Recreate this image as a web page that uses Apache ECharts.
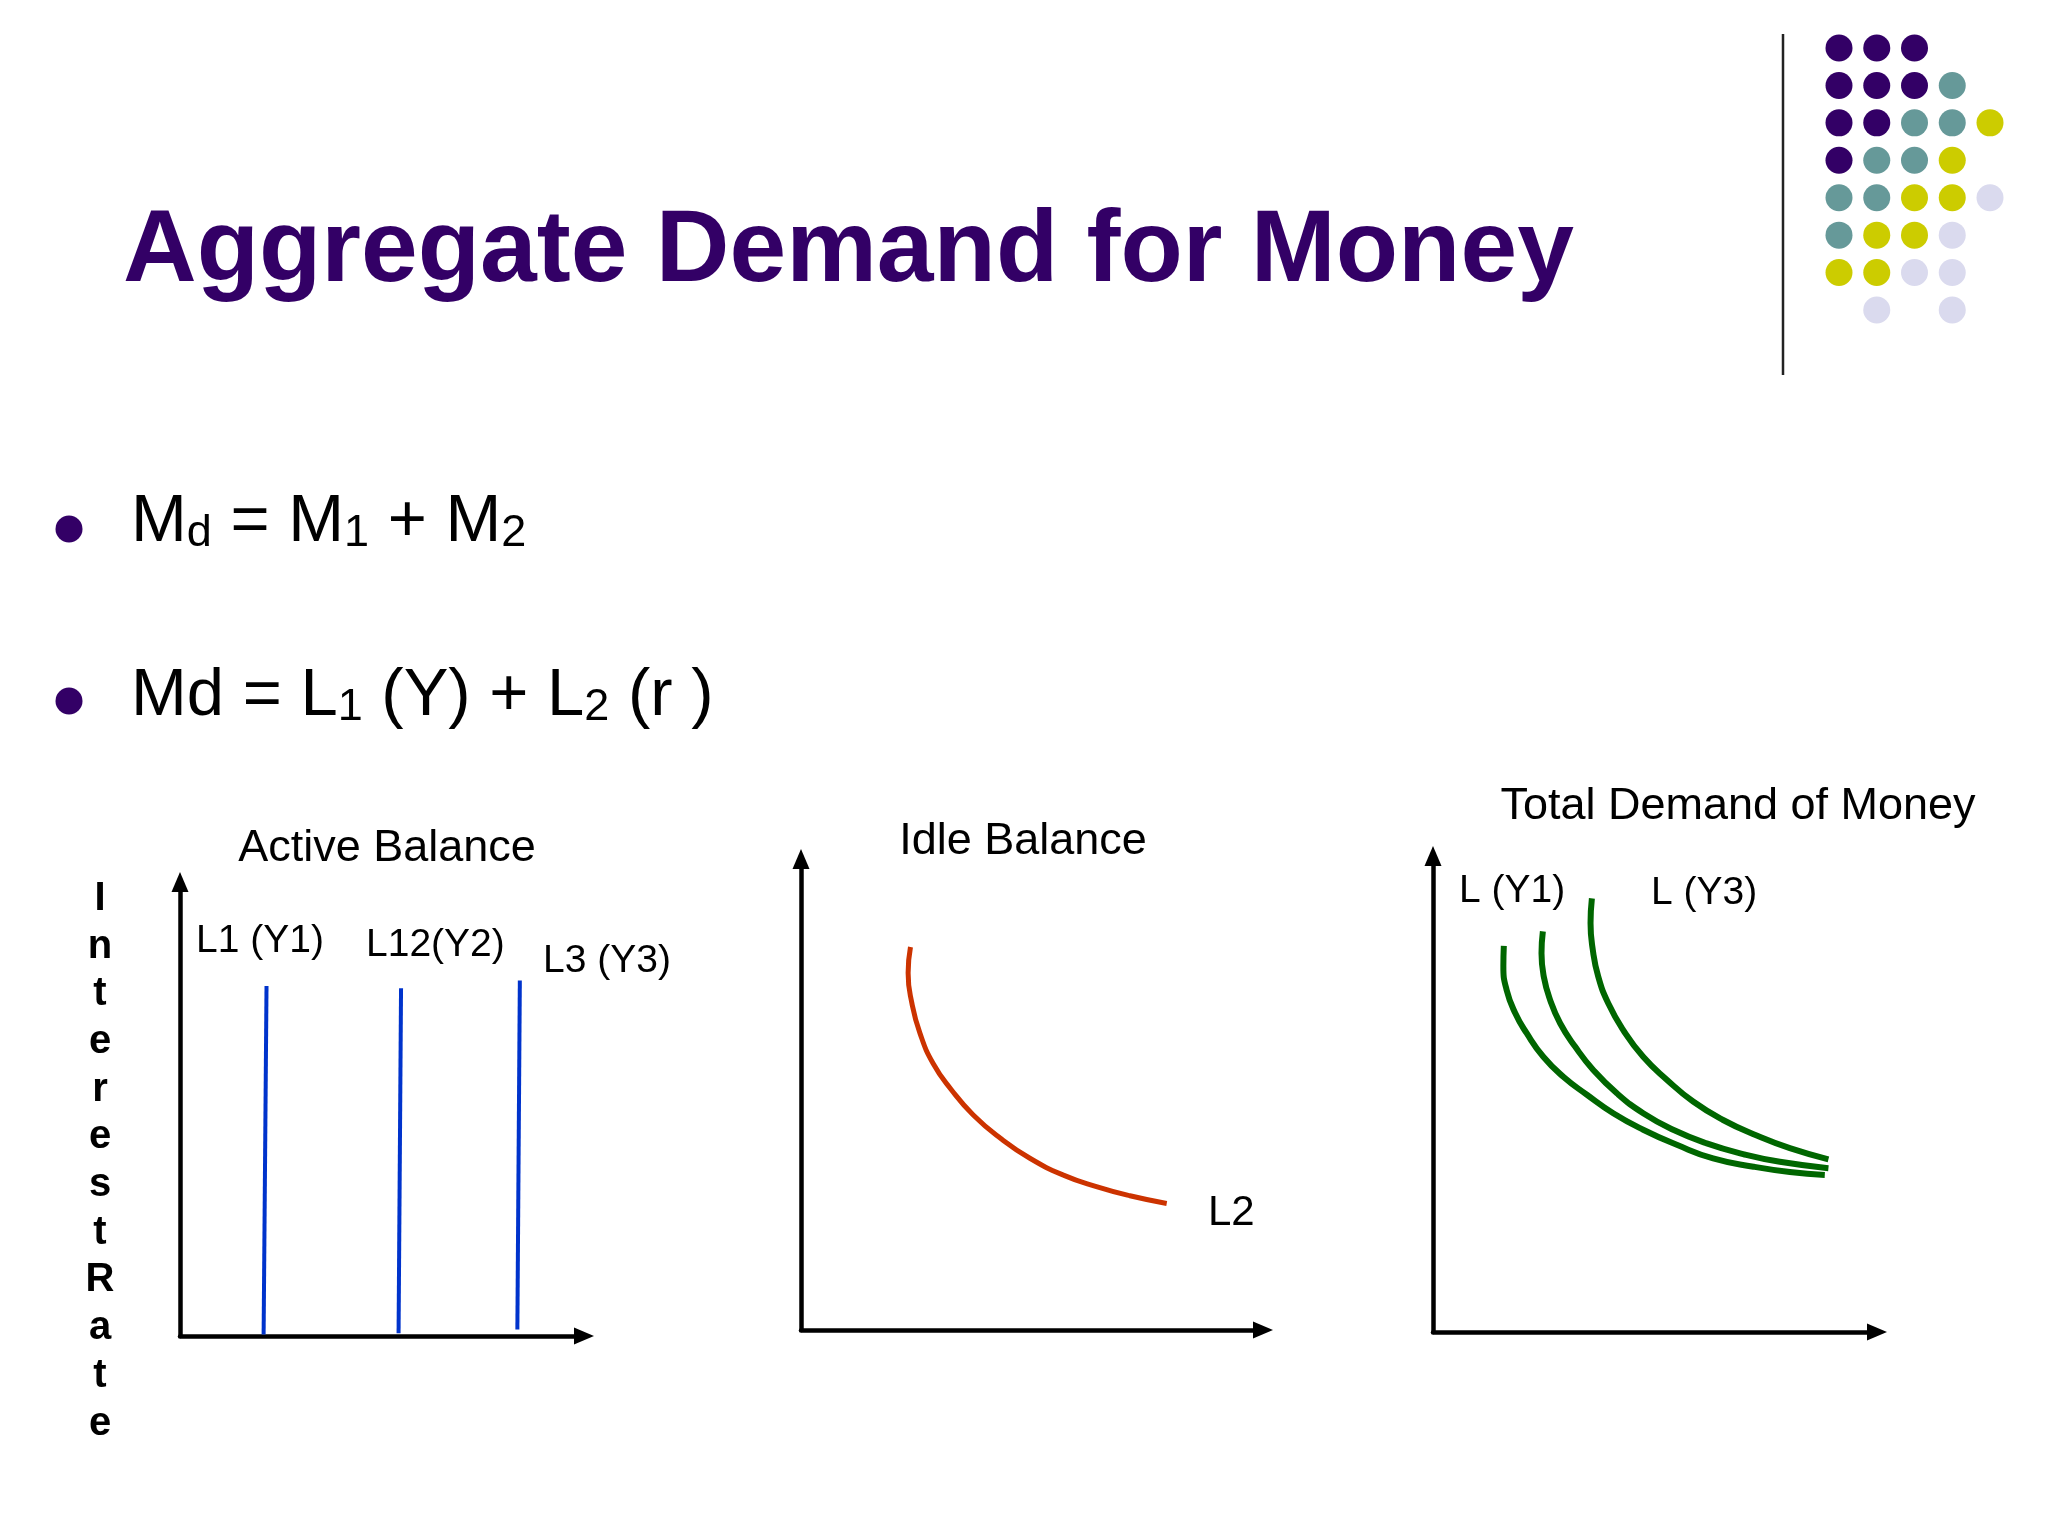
<!DOCTYPE html>
<html>
<head>
<meta charset="utf-8">
<style>
  html, body { margin: 0; padding: 0; background: #ffffff; }
  #chart { width: 2048px; height: 1536px; }
</style>
<script src="https://cdn.jsdelivr.net/npm/echarts@6/dist/echarts.min.js"></script>
</head>
<body>
<div id="chart"></div>
<script>
// ---------------- data ----------------
// Panel 1: Active Balance (vertical L1 lines), [x, y] in panel units (0-100)
const activeNames = ['L1 (Y1)', 'L12(Y2)', 'L3 (Y3)'];
const activeL1 = [[20.9, 75.4], [20.2, 0.3]];
const activeL12 = [[53.4, 74.9], [52.8, 0.6]];
const activeL3 = [[82.1, 76.6], [81.5, 1.4]];

// Panel 2: Idle Balance (L2 curve)
const idleL2 = [
  [23.2, 79.6], [22.7, 74.2], [23.5, 67.9], [25.2, 61.7], [28.0, 55.4], [31.9, 49.9],
  [36.5, 44.7], [42.2, 39.9], [48.5, 35.7], [55.6, 32.2], [62.6, 29.8], [69.7, 27.9],
  [77.5, 26.3]
];

// Panel 3: Total Demand of Money (three L curves)
const totalY1 = [
  [15.6, 79.4], [15.5, 75.2], [16.2, 70.4], [18.1, 65.6], [20.6, 61.5], [24.3, 56.6],
  [28.7, 52.5], [33.9, 48.8], [39.7, 45.0], [46.3, 41.6], [53.7, 38.5], [61.7, 35.7],
  [70.6, 34.0], [78.6, 32.9], [86.3, 32.3]
];
const totalY2 = [
  [24.2, 82.4], [23.9, 77.9], [24.4, 73.1], [25.8, 68.3], [28.0, 63.5], [31.3, 58.7],
  [35.3, 53.9], [40.5, 49.1], [46.3, 45.0], [52.9, 41.6], [60.3, 38.8], [68.3, 36.6],
  [76.4, 35.0], [87.1, 33.7]
];
const totalY3 = [
  [35.0, 89.2], [34.7, 84.1], [35.2, 78.6], [36.4, 73.1], [38.6, 67.6], [41.9, 62.1],
  [46.3, 56.6], [51.5, 51.9], [57.3, 47.4], [63.9, 43.6], [71.3, 40.4], [78.6, 37.8],
  [87.1, 35.5]
];

// Decorative dot grid (P = purple, T = teal, Y = yellow, L = lavender)
const dotRows = ['PPP..', 'PPPT.', 'PPTTY', 'PTTY.', 'TTYYL', 'TYYL.', 'YYLL.', '.L.L.'];
const dotColors = { P: '#330066', T: '#669999', Y: '#CCCC00', L: '#DADAEE' };

// Texts
const titleText = 'Aggregate Demand for Money';
const panelTitles = ['Active Balance', 'Idle Balance', 'Total Demand of Money'];
const yAxisWord = 'InterestRate';
const totalLabels = ['L (Y1)', 'L (Y3)'];
const idleLabel = 'L2';

// ---------------- build ----------------
const FONT = '"Liberation Sans", Arial, Helvetica, sans-serif';
const AX = '#000000';

const dotData = [];
dotRows.forEach(function (row, r) {
  row.split('').forEach(function (ch, c) {
    if (dotColors[ch]) dotData.push({ value: [c, r], itemStyle: { color: dotColors[ch], opacity: 1 } });
  });
});

function axisPair(xMax, yMax, gi) {
  const common = {
    type: 'value', gridIndex: gi, min: 0,
    axisTick: { show: false }, axisLabel: { show: false }, splitLine: { show: false },
    axisLine: { show: true, onZero: false, symbol: ['none', 'triangle'], symbolSize: [17, 20],
      lineStyle: { color: AX, width: 4.5 } }
  };
  return [
    Object.assign({}, common, { max: xMax }),
    Object.assign({}, common, { max: yMax })
  ];
}

const a1 = axisPair(97.6, 97.8, 0);
const a2 = axisPair(97.9, 97.9, 1);
const a3 = axisPair(97.8, 97.9, 2);

const curveStyle = { symbol: 'none', smooth: 0.5 };

const option = {
  animation: false,
  backgroundColor: '#ffffff',
  grid: [
    { left: 180, top: 882, width: 404, height: 454 },
    { left: 801, top: 859, width: 462, height: 471 },
    { left: 1433, top: 856, width: 444, height: 476 },
    { left: 1839, top: 48, width: 151, height: 262 }
  ],
  xAxis: [a1[0], a2[0], a3[0],
    { type: 'value', gridIndex: 3, min: 0, max: 4, show: false }],
  yAxis: [a1[1], a2[1], a3[1],
    { type: 'value', gridIndex: 3, min: 0, max: 7, inverse: true, show: false }],
  series: [
    { type: 'line', name: activeNames[0], xAxisIndex: 0, yAxisIndex: 0, data: activeL1, symbol: 'none',
      lineStyle: { color: '#0033CC', width: 4 } },
    { type: 'line', name: activeNames[1], xAxisIndex: 0, yAxisIndex: 0, data: activeL12, symbol: 'none',
      lineStyle: { color: '#0033CC', width: 4 } },
    { type: 'line', name: activeNames[2], xAxisIndex: 0, yAxisIndex: 0, data: activeL3, symbol: 'none',
      lineStyle: { color: '#0033CC', width: 4 } },
    Object.assign({ type: 'line', name: 'L2', xAxisIndex: 1, yAxisIndex: 1, data: idleL2,
      lineStyle: { color: '#CC3300', width: 5 } }, curveStyle),
    Object.assign({ type: 'line', name: 'L (Y1)', xAxisIndex: 2, yAxisIndex: 2, data: totalY1,
      lineStyle: { color: '#006600', width: 6 } }, curveStyle),
    Object.assign({ type: 'line', name: 'L (Y2)', xAxisIndex: 2, yAxisIndex: 2, data: totalY2,
      lineStyle: { color: '#006600', width: 6 } }, curveStyle),
    Object.assign({ type: 'line', name: 'L (Y3)', xAxisIndex: 2, yAxisIndex: 2, data: totalY3,
      lineStyle: { color: '#006600', width: 6 } }, curveStyle),
    { type: 'scatter', xAxisIndex: 3, yAxisIndex: 3, data: dotData, symbolSize: 27, silent: true,
      itemStyle: { opacity: 1 } }
  ],
  graphic: [
    // vertical divider line near the dots
    { type: 'line', shape: { x1: 1783, y1: 34, x2: 1783, y2: 375 }, style: { stroke: '#222222', lineWidth: 2.5 } },
    // main title
    { type: 'text', x: 123, y: 253, style: { text: titleText, font: 'bold 102px ' + FONT, fill: '#330066',
      textAlign: 'left', textVerticalAlign: 'middle' } },
    // bullets
    { type: 'circle', shape: { cx: 69, cy: 529, r: 13.5 }, style: { fill: '#330066' } },
    { type: 'circle', shape: { cx: 69, cy: 701, r: 13.5 }, style: { fill: '#330066' } },
    { type: 'text', x: 131, y: 523, style: {
      text: 'M{s|d} = M{s|1} + M{s|2}', font: '67px ' + FONT, fontSize: 67, lineHeight: 67, fill: '#000',
      textAlign: 'left', textVerticalAlign: 'middle',
      rich: { s: { fontSize: 45, lineHeight: 60, fontFamily: FONT, verticalAlign: 'bottom' } } } },
    { type: 'text', x: 131, y: 697, style: {
      text: 'Md = L{s|1} (Y) + L{s|2} (r )', font: '67px ' + FONT, fontSize: 67, lineHeight: 67, fill: '#000',
      textAlign: 'left', textVerticalAlign: 'middle',
      rich: { s: { fontSize: 45, lineHeight: 60, fontFamily: FONT, verticalAlign: 'bottom' } } } },
    // panel titles
    { type: 'text', x: 387, y: 849, style: { text: panelTitles[0], font: '45px ' + FONT, fill: '#000',
      textAlign: 'center', textVerticalAlign: 'middle' } },
    { type: 'text', x: 1023, y: 842, style: { text: panelTitles[1], font: '45px ' + FONT, fill: '#000',
      textAlign: 'center', textVerticalAlign: 'middle' } },
    { type: 'text', x: 1738, y: 807, style: { text: panelTitles[2], font: '45px ' + FONT, fill: '#000',
      textAlign: 'center', textVerticalAlign: 'middle' } },
    // vertical axis word
    { type: 'text', x: 100, y: 875, style: { text: yAxisWord.split('').join('\n'), font: 'bold 40px ' + FONT,
      lineHeight: 47.7, fill: '#000', textAlign: 'center', textVerticalAlign: 'top' } },
    // panel 1 labels
    { type: 'text', x: 196, y: 941, style: { text: activeNames[0], font: '39px ' + FONT, fill: '#000',
      textAlign: 'left', textVerticalAlign: 'middle' } },
    { type: 'text', x: 366, y: 945, style: { text: activeNames[1], font: '39px ' + FONT, fill: '#000',
      textAlign: 'left', textVerticalAlign: 'middle' } },
    { type: 'text', x: 543, y: 961, style: { text: activeNames[2], font: '39px ' + FONT, fill: '#000',
      textAlign: 'left', textVerticalAlign: 'middle' } },
    // panel 2 label
    { type: 'text', x: 1208, y: 1213, style: { text: idleLabel, font: '42px ' + FONT, fill: '#000',
      textAlign: 'left', textVerticalAlign: 'middle' } },
    // panel 3 labels
    { type: 'text', x: 1459, y: 891, style: { text: totalLabels[0], font: '39px ' + FONT, fill: '#000',
      textAlign: 'left', textVerticalAlign: 'middle' } },
    { type: 'text', x: 1651, y: 893, style: { text: totalLabels[1], font: '39px ' + FONT, fill: '#000',
      textAlign: 'left', textVerticalAlign: 'middle' } }
  ]
};

const chart = echarts.init(document.getElementById('chart'), null, { renderer: 'canvas' });
chart.setOption(option);
</script>
</body>
</html>
